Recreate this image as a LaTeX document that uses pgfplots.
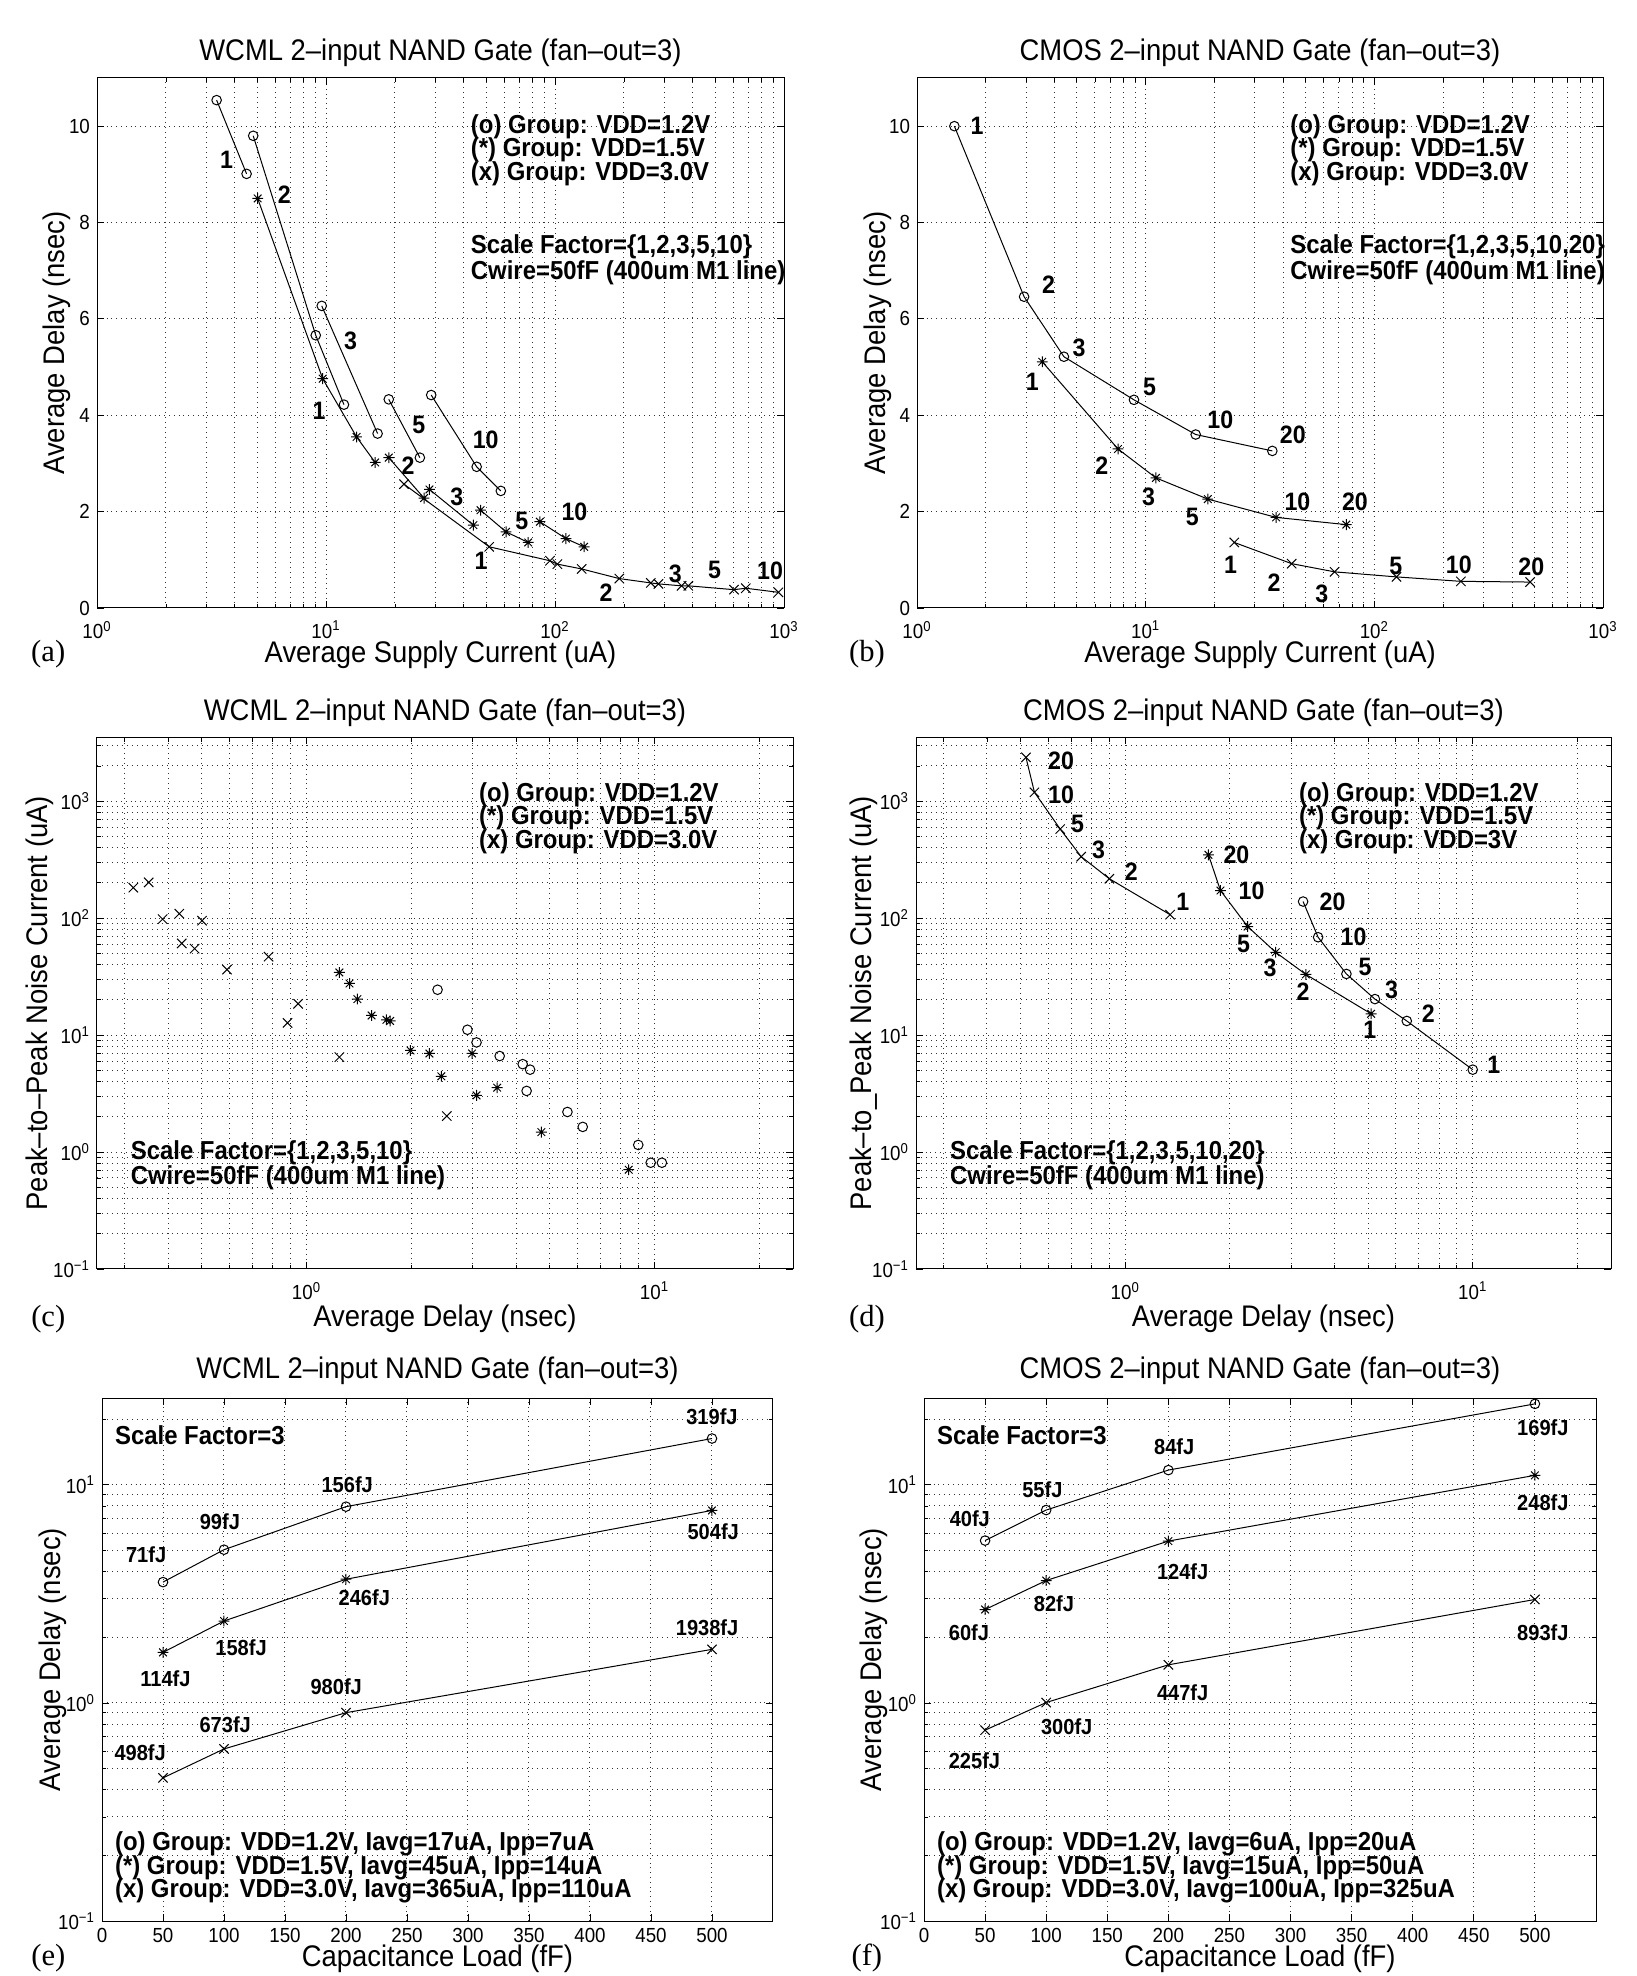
\documentclass[border=0pt]{standalone}
\usepackage{pgfplots}
\pgfplotsset{compat=1.18}
\usepackage{fontspec}
\setmainfont{Liberation Sans}[FakeStretch=0.92]
\newfontfamily\seriffont{Liberation Serif}
\newcommand\tf{\fontsize{10.2}{12}\selectfont}
\newcommand\lf{\fontsize{14.9}{17}\selectfont}
\newcommand\af{\fontsize{13}{14}\selectfont\bfseries}
\newcommand\nf{\fontsize{12.6}{14}\selectfont\bfseries}
\newcommand\ef{\fontsize{10.9}{13}\selectfont\bfseries}
\newcommand\subf{\fontsize{15.3}{17}\selectfont\seriffont}
\newcommand\tsup[1]{10\textsuperscript{#1}}
\pgfdeclareplotmark{mstar}{%
 \pgfpathmoveto{\pgfqpoint{0pt}{\pgfplotmarksize}}\pgfpathlineto{\pgfqpoint{0pt}{-\pgfplotmarksize}}%
 \pgfpathmoveto{\pgfqpoint{\pgfplotmarksize}{0pt}}\pgfpathlineto{\pgfqpoint{-\pgfplotmarksize}{0pt}}%
 \pgfpathmoveto{\pgfqpoint{0.707\pgfplotmarksize}{0.707\pgfplotmarksize}}\pgfpathlineto{\pgfqpoint{-0.707\pgfplotmarksize}{-0.707\pgfplotmarksize}}%
 \pgfpathmoveto{\pgfqpoint{0.707\pgfplotmarksize}{-0.707\pgfplotmarksize}}\pgfpathlineto{\pgfqpoint{-0.707\pgfplotmarksize}{0.707\pgfplotmarksize}}%
 \pgfusepathqstroke}
\pgfplotsset{
  every axis title shift=0pt,
  mybase/.style={
    scale only axis, clip=false, anchor=south west,
    axis line style={line width=0.5pt},
    tick align=inside, xtick pos=both, ytick pos=both,
    major tick length=3.5pt, minor tick length=2.2pt,
    tick style={black, line width=0.4pt},
    tick label style={font=\tf},
    grid style={dotted, black!80, line width=0.5pt},
    minor grid style={dotted, black!80, line width=0.5pt},
    title style={font=\lf, anchor=center},
    xlabel style={font=\lf, anchor=center},
    ylabel style={font=\lf, anchor=center},
    every axis plot/.append style={black, line width=0.5pt, mark options={solid, line width=0.5pt}},
  },
  mo/.style={mark=o, mark size=2.4pt},
  ms/.style={mark=mstar, mark size=2.7pt},
  mx/.style={mark=x, mark size=3.3pt},
}
\begin{document}
\begin{tikzpicture}
\useasboundingbox (0,0) rectangle (818.5pt,988pt);

% ---------------- (a)
\begin{axis}[mybase, at={(48.5pt,684pt)}, width=343.5pt, height=265pt,
    xmode=log, xmin=1, xmax=1000, ymin=0, ymax=11,
    xtick={1,10,100,1000}, xticklabels={\tsup{0},\tsup{1},\tsup{2},\tsup{3}},
    minor xtick={2,3,4,5,6,7,8,9,20,30,40,50,60,70,80,90,200,300,400,500,600,700,800,900},
    ytick={0,2,4,6,8,10}, yticklabels={0,2,4,6,8,10},
    xmajorgrids, xminorgrids, ymajorgrids,
    xticklabel style={yshift=-3pt},
    title style={at={(axis description cs:0.5,1.047)}},
    xlabel style={at={(axis description cs:0.5,-0.088)}},
    ylabel style={at={(axis description cs:-0.058,0.5)}},
    xlabel={Average Supply Current (uA)}, ylabel={Average Delay (nsec)},
    title={WCML 2--input NAND Gate (fan--out=3)}]
\addplot[mo] coordinates {(3.33,10.54) (4.50,9.01)};
\addplot[mo] coordinates {(4.81,9.80) (9.02,5.66) (11.98,4.22)};
\addplot[mo] coordinates {(9.58,6.27) (16.8,3.62)};
\addplot[mo] coordinates {(18.8,4.33) (25.7,3.12)};
\addplot[mo] coordinates {(28.8,4.42) (45.5,2.93) (58.0,2.43)};
\addplot[ms] coordinates {(5.03,8.50) (9.67,4.76) (13.6,3.55) (16.4,3.02)};
\addplot[ms] coordinates {(18.8,3.12) (26.8,2.28)};
\addplot[ms] coordinates {(28.3,2.46) (44.0,1.72)};
\addplot[ms] coordinates {(47.3,2.03) (61.1,1.58) (76.4,1.36)};
\addplot[ms] coordinates {(85.9,1.79) (111.6,1.44) (134,1.27)};
\addplot[mx] coordinates {(21.9,2.57) (51.6,1.27) (95.1,0.98) (102.4,0.91) (130.8,0.81) (191,0.61) (262,0.52) (283,0.50) (357,0.46) (382,0.46) (605,0.38) (681,0.41) (945,0.325)};
\node[font=\nf] at (axis cs:3.68,9.31) {1};
\node[font=\nf] at (axis cs:6.58,8.58) {2};
\node[font=\nf] at (axis cs:12.8,5.55) {3};
\node[font=\nf] at (axis cs:25.4,3.79) {5};
\node[font=\nf] at (axis cs:49.8,3.49) {10};
\node[font=\nf] at (axis cs:9.33,4.09) {1};
\node[font=\nf] at (axis cs:22.8,2.95) {2};
\node[font=\nf] at (axis cs:37.3,2.30) {3};
\node[font=\nf] at (axis cs:71.6,1.80) {5};
\node[font=\nf] at (axis cs:121.6,2.0) {10};
\node[font=\nf] at (axis cs:47.5,0.975) {1};
\node[font=\nf] at (axis cs:167,0.32) {2};
\node[font=\nf] at (axis cs:335,0.71) {3};
\node[font=\nf] at (axis cs:498,0.78) {5};
\node[font=\nf] at (axis cs:869,0.78) {10};
\node[anchor=west,font=\af] at (axis description cs:0.534,0.908) {(o) Group: VDD=1.2V};
\node[anchor=west,font=\af] at (axis description cs:0.534,0.864) {(*) Group: VDD=1.5V};
\node[anchor=west,font=\af] at (axis description cs:0.534,0.819) {(x) Group: VDD=3.0V};
\node[anchor=west,font=\af] at (axis description cs:0.534,0.681) {Scale Factor=\{1,2,3,5,10\}};
\node[anchor=west,font=\af] at (axis description cs:0.534,0.633) {Cwire=50fF (400um M1 line)};
\node[font=\subf] at (axis description cs:-0.071,-0.088) {(a)};
\end{axis}

% ---------------- (b)
\begin{axis}[mybase, at={(458.5pt,684pt)}, width=343pt, height=265pt,
    xmode=log, xmin=1, xmax=1000, ymin=0, ymax=11,
    xtick={1,10,100,1000}, xticklabels={\tsup{0},\tsup{1},\tsup{2},\tsup{3}},
    minor xtick={2,3,4,5,6,7,8,9,20,30,40,50,60,70,80,90,200,300,400,500,600,700,800,900},
    ytick={0,2,4,6,8,10}, yticklabels={0,2,4,6,8,10},
    xmajorgrids, xminorgrids, ymajorgrids,
    xticklabel style={yshift=-3pt},
    title style={at={(axis description cs:0.5,1.047)}},
    xlabel style={at={(axis description cs:0.5,-0.088)}},
    ylabel style={at={(axis description cs:-0.057,0.5)}},
    xlabel={Average Supply Current (uA)}, ylabel={Average Delay (nsec)},
    title={CMOS 2--input NAND Gate (fan--out=3)}]
\addplot[mo] coordinates {(1.457,10.0) (2.94,6.46) (4.39,5.215) (8.89,4.32) (16.55,3.60) (35.8,3.26)};
\addplot[ms] coordinates {(3.53,5.11) (7.57,3.30) (11.09,2.70) (18.7,2.26) (37.2,1.88) (75.4,1.73)};
\addplot[mx] coordinates {(24.4,1.36) (43.5,0.92) (67,0.75) (125,0.645) (239,0.553) (480,0.538)};
\node[font=\nf] at (axis cs:1.83,10.0) {1};
\node[font=\nf] at (axis cs:3.76,6.70) {2};
\node[font=\nf] at (axis cs:5.11,5.39) {3};
\node[font=\nf] at (axis cs:10.4,4.59) {5};
\node[font=\nf] at (axis cs:21.2,3.91) {10};
\node[font=\nf] at (axis cs:44.0,3.59) {20};
\node[font=\nf] at (axis cs:3.19,4.70) {1};
\node[font=\nf] at (axis cs:6.43,2.96) {2};
\node[font=\nf] at (axis cs:10.3,2.30) {3};
\node[font=\nf] at (axis cs:16.0,1.88) {5};
\node[font=\nf] at (axis cs:46.1,2.20) {10};
\node[font=\nf] at (axis cs:82.3,2.20) {20};
\node[font=\nf] at (axis cs:23.5,0.90) {1};
\node[font=\nf] at (axis cs:36.4,0.515) {2};
\node[font=\nf] at (axis cs:58.9,0.284) {3};
\node[font=\nf] at (axis cs:124,0.876) {5};
\node[font=\nf] at (axis cs:234,0.90) {10};
\node[font=\nf] at (axis cs:486,0.845) {20};
\node[anchor=west,font=\af] at (axis description cs:0.534,0.908) {(o) Group: VDD=1.2V};
\node[anchor=west,font=\af] at (axis description cs:0.534,0.864) {(*) Group: VDD=1.5V};
\node[anchor=west,font=\af] at (axis description cs:0.534,0.819) {(x) Group: VDD=3.0V};
\node[anchor=west,font=\af] at (axis description cs:0.534,0.681) {Scale Factor=\{1,2,3,5,10,20\}};
\node[anchor=west,font=\af] at (axis description cs:0.534,0.633) {Cwire=50fF (400um M1 line)};
\node[font=\subf] at (axis description cs:-0.073,-0.088) {(b)};
\end{axis}

% ---------------- (c)
\begin{axis}[mybase, at={(48.5pt,353.5pt)}, width=348pt, height=265.75pt,
    xmode=log, ymode=log, xmin=0.25, xmax=25, ymin=0.1, ymax=3500,
    xtick={1,10}, xticklabels={\tsup{0},\tsup{1}},
    minor xtick={0.3,0.4,0.5,0.6,0.7,0.8,0.9,2,3,4,5,6,7,8,9,20},
    ytick={0.1,1,10,100,1000}, yticklabels={\tsup{−1},\tsup{0},\tsup{1},\tsup{2},\tsup{3}},
    minor ytick={0.2,0.3,0.4,0.5,0.6,0.7,0.8,0.9,2,3,4,5,6,7,8,9,20,30,40,50,60,70,80,90,200,300,400,500,600,700,800,900,2000,3000},
    xmajorgrids, xminorgrids, ymajorgrids, yminorgrids,
    xticklabel style={yshift=-3pt},
    title style={at={(axis description cs:0.5,1.047)}},
    xlabel style={at={(axis description cs:0.5,-0.094)}},
    ylabel style={at={(axis description cs:-0.082,0.5)}},
    xlabel={Average Delay (nsec)}, ylabel={Peak--to--Peak Noise Current (uA)},
    title={WCML 2--input NAND Gate (fan--out=3)}]
\addplot[only marks, mx] coordinates {(0.318,182) (0.352,202) (0.386,98) (0.431,109) (0.501,95) (0.438,60.7) (0.477,54.8) (0.591,36.3) (0.778,46.8) (0.946,18.5) (0.882,12.7) (1.243,6.48) (2.53,2.03)};
\addplot[only marks, ms] coordinates {(1.243,34.3) (1.329,27.6) (1.40,20.3) (1.538,14.7) (1.697,13.5) (1.739,13.2) (1.99,7.38) (2.255,6.96) (2.44,4.44) (2.99,6.96) (3.08,3.05) (3.53,3.55) (4.73,1.48) (8.43,0.706)};
\addplot[only marks, mo] coordinates {(2.38,24.4) (2.90,11.1) (3.08,8.65) (3.59,6.62) (4.18,5.64) (4.39,5.06) (4.29,3.33) (5.62,2.20) (6.22,1.64) (8.98,1.15) (9.75,0.81) (10.5,0.81)};
\node[anchor=west,font=\af] at (axis description cs:0.539,0.893) {(o) Group: VDD=1.2V};
\node[anchor=west,font=\af] at (axis description cs:0.539,0.848) {(*) Group: VDD=1.5V};
\node[anchor=west,font=\af] at (axis description cs:0.539,0.803) {(x) Group: VDD=3.0V};
\node[anchor=west,font=\af] at (axis description cs:0.0385,0.219) {Scale Factor=\{1,2,3,5,10\}};
\node[anchor=west,font=\af] at (axis description cs:0.0385,0.171) {Cwire=50fF (400um M1 line)};
\node[font=\subf] at (axis description cs:-0.070,-0.094) {(c)};
\end{axis}

% ---------------- (d)
\begin{axis}[mybase, at={(458pt,353.5pt)}, width=347.5pt, height=265.75pt,
    xmode=log, ymode=log, xmin=0.25, xmax=25, ymin=0.1, ymax=3500,
    xtick={1,10}, xticklabels={\tsup{0},\tsup{1}},
    minor xtick={0.3,0.4,0.5,0.6,0.7,0.8,0.9,2,3,4,5,6,7,8,9,20},
    ytick={0.1,1,10,100,1000}, yticklabels={\tsup{−1},\tsup{0},\tsup{1},\tsup{2},\tsup{3}},
    minor ytick={0.2,0.3,0.4,0.5,0.6,0.7,0.8,0.9,2,3,4,5,6,7,8,9,20,30,40,50,60,70,80,90,200,300,400,500,600,700,800,900,2000,3000},
    xmajorgrids, xminorgrids, ymajorgrids, yminorgrids,
    xticklabel style={yshift=-3pt},
    title style={at={(axis description cs:0.5,1.047)}},
    xlabel style={at={(axis description cs:0.5,-0.094)}},
    ylabel style={at={(axis description cs:-0.075,0.5)}},
    xlabel={Average Delay (nsec)}, ylabel={Peak--to\_Peak Noise Current (uA)},
    title={CMOS 2--input NAND Gate (fan--out=3)}]
\addplot[mx] coordinates {(0.518,2366) (0.548,1190) (0.650,577) (0.747,335) (0.90,217) (1.346,107)};
\addplot[ms] coordinates {(1.736,347) (1.88,172) (2.25,84.7) (2.71,51) (3.31,33) (5.10,15.2)};
\addplot[mo] coordinates {(3.25,138.5) (3.59,68.6) (4.33,33.3) (5.23,20.3) (6.46,13.2) (10.0,5.06)};
\node[font=\nf] at (axis cs:0.654,2218) {20};
\node[font=\nf] at (axis cs:0.654,1131) {10};
\node[font=\nf] at (axis cs:0.729,634) {5};
\node[font=\nf] at (axis cs:0.838,382) {3};
\node[font=\nf] at (axis cs:1.041,247) {2};
\node[font=\nf] at (axis cs:1.464,136.5) {1};
\node[font=\nf] at (axis cs:2.09,347) {20};
\node[font=\nf] at (axis cs:2.31,172) {10};
\node[font=\nf] at (axis cs:2.19,60.2) {5};
\node[font=\nf] at (axis cs:2.61,37.6) {3};
\node[font=\nf] at (axis cs:3.25,23.5) {2};
\node[font=\nf] at (axis cs:5.06,11.0) {1};
\node[font=\nf] at (axis cs:3.95,136.5) {20};
\node[font=\nf] at (axis cs:4.54,69.6) {10};
\node[font=\nf] at (axis cs:4.90,38.5) {5};
\node[font=\nf] at (axis cs:5.84,24.4) {3};
\node[font=\nf] at (axis cs:7.45,15.2) {2};
\node[font=\nf] at (axis cs:11.5,5.52) {1};
\node[anchor=west,font=\af] at (axis description cs:0.541,0.893) {(o) Group: VDD=1.2V};
\node[anchor=west,font=\af] at (axis description cs:0.541,0.848) {(*) Group: VDD=1.5V};
\node[anchor=west,font=\af] at (axis description cs:0.541,0.803) {(x) Group: VDD=3V};
\node[anchor=west,font=\af] at (axis description cs:0.039,0.219) {Scale Factor=\{1,2,3,5,10,20\}};
\node[anchor=west,font=\af] at (axis description cs:0.039,0.171) {Cwire=50fF (400um M1 line)};
\node[font=\subf] at (axis description cs:-0.0705,-0.094) {(d)};
\end{axis}

% ---------------- (e)
\begin{axis}[mybase, at={(51pt,27.5pt)}, width=335.5pt, height=261.5pt,
    ymode=log, xmin=0, xmax=550, ymin=0.1, ymax=25,
    xtick={0,50,100,150,200,250,300,350,400,450,500}, xticklabels={0,50,100,150,200,250,300,350,400,450,500},
    ytick={0.1,1,10}, yticklabels={\tsup{−1},\tsup{0},\tsup{1}},
    minor ytick={0.2,0.3,0.4,0.5,0.6,0.7,0.8,0.9,2,3,4,5,6,7,8,9,20},
    xmajorgrids, ymajorgrids, yminorgrids,
    title style={at={(axis description cs:0.5,1.052)}},
    xlabel style={at={(axis description cs:0.5,-0.073)}},
    ylabel style={at={(axis description cs:-0.073,0.5)}},
    xlabel={Capacitance Load (fF)}, ylabel={Average Delay (nsec)},
    title={WCML 2--input NAND Gate (fan--out=3)}]
\addplot[mo] coordinates {(50,3.58) (100,5.04) (200,7.94) (500,16.3)};
\addplot[ms] coordinates {(50,1.705) (100,2.374) (200,3.69) (500,7.63)};
\addplot[mx] coordinates {(50,0.453) (100,0.615) (200,0.902) (500,1.76)};
\node[font=\ef] at (axis cs:500,20.5) {319fJ};
\node[font=\ef] at (axis cs:201,10.0) {156fJ};
\node[font=\ef] at (axis cs:96.6,6.77) {99fJ};
\node[font=\ef] at (axis cs:36.2,4.78) {71fJ};
\node[font=\ef] at (axis cs:501,6.08) {504fJ};
\node[font=\ef] at (axis cs:215,3.03) {246fJ};
\node[font=\ef] at (axis cs:114,1.79) {158fJ};
\node[font=\ef] at (axis cs:52,1.285) {114fJ};
\node[font=\ef] at (axis cs:496,2.20) {1938fJ};
\node[font=\ef] at (axis cs:192,1.187) {980fJ};
\node[font=\ef] at (axis cs:101,0.797) {673fJ};
\node[font=\ef] at (axis cs:31.3,0.591) {498fJ};
\node[anchor=west,font=\af] at (axis description cs:0.009,0.928) {Scale Factor=3};
\node[anchor=west,font=\af] at (axis description cs:0.009,0.148) {(o) Group: VDD=1.2V, Iavg=17uA, Ipp=7uA};
\node[anchor=west,font=\af] at (axis description cs:0.009,0.101) {(*) Group: VDD=1.5V, Iavg=45uA, Ipp=14uA};
\node[anchor=west,font=\af] at (axis description cs:0.009,0.0576) {(x) Group: VDD=3.0V, Iavg=365uA, Ipp=110uA};
\node[font=\subf] at (axis description cs:-0.080,-0.071) {(e)};
\end{axis}

% ---------------- (f)
\begin{axis}[mybase, at={(462pt,27.5pt)}, width=336pt, height=261.5pt,
    ymode=log, xmin=0, xmax=550, ymin=0.1, ymax=25,
    xtick={0,50,100,150,200,250,300,350,400,450,500}, xticklabels={0,50,100,150,200,250,300,350,400,450,500},
    ytick={0.1,1,10}, yticklabels={\tsup{−1},\tsup{0},\tsup{1}},
    minor ytick={0.2,0.3,0.4,0.5,0.6,0.7,0.8,0.9,2,3,4,5,6,7,8,9,20},
    xmajorgrids, ymajorgrids, yminorgrids,
    title style={at={(axis description cs:0.5,1.052)}},
    xlabel style={at={(axis description cs:0.5,-0.073)}},
    ylabel style={at={(axis description cs:-0.074,0.5)}},
    xlabel={Capacitance Load (fF)}, ylabel={Average Delay (nsec)},
    title={CMOS 2--input NAND Gate (fan--out=3)}]
\addplot[mo] coordinates {(50,5.55) (100,7.66) (200,11.68) (500,23.5)};
\addplot[ms] coordinates {(50,2.68) (100,3.64) (200,5.52) (500,11.05)};
\addplot[mx] coordinates {(50,0.750) (100,1.004) (200,1.495) (500,2.98)};
\node[font=\ef] at (axis cs:506.5,18.2) {169fJ};
\node[font=\ef] at (axis cs:204.8,14.9) {84fJ};
\node[font=\ef] at (axis cs:96.9,9.53) {55fJ};
\node[font=\ef] at (axis cs:37.5,6.98) {40fJ};
\node[font=\ef] at (axis cs:506.5,8.29) {248fJ};
\node[font=\ef] at (axis cs:211.7,4.0) {124fJ};
\node[font=\ef] at (axis cs:106.4,2.85) {82fJ};
\node[font=\ef] at (axis cs:36.8,2.10) {60fJ};
\node[font=\ef] at (axis cs:506.5,2.09) {893fJ};
\node[font=\ef] at (axis cs:211.7,1.109) {447fJ};
\node[font=\ef] at (axis cs:116.8,0.781) {300fJ};
\node[font=\ef] at (axis cs:41.3,0.546) {225fJ};
\node[anchor=west,font=\af] at (axis description cs:0.009,0.928) {Scale Factor=3};
\node[anchor=west,font=\af] at (axis description cs:0.009,0.148) {(o) Group: VDD=1.2V, Iavg=6uA, Ipp=20uA};
\node[anchor=west,font=\af] at (axis description cs:0.009,0.101) {(*) Group: VDD=1.5V, Iavg=15uA, Ipp=50uA};
\node[anchor=west,font=\af] at (axis description cs:0.009,0.0576) {(x) Group: VDD=3.0V, Iavg=100uA, Ipp=325uA};
\node[font=\subf] at (axis description cs:-0.085,-0.071) {(f)};
\end{axis}
\end{tikzpicture}
\end{document}
